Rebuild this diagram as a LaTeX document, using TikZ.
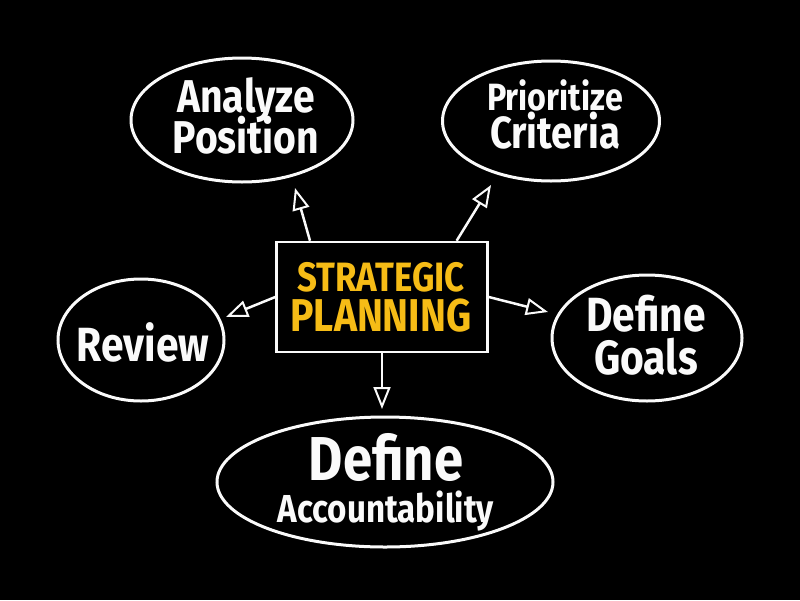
\documentclass[tikz,border=0pt]{standalone}
\usepackage{fontspec}
\setmainfont{Fira Sans}[FakeStretch=0.85]
\usetikzlibrary{shapes.geometric,arrows.meta}

\definecolor{chalk}{RGB}{250,250,250}
\definecolor{marker}{RGB}{246,188,22}
\setlength{\lineskiplimit}{-100pt}

\tikzset{
  bubble/.style={draw=chalk, line width=3pt, ellipse, inner sep=0pt},
  bubbletext/.style={text=chalk, align=center, inner sep=0pt,
    font={\fontsize{10}{#1}\selectfont\bfseries}},
  bubbletext/.default=40,
  hub/.style={draw=chalk, line width=2.5pt, rectangle, minimum width=211pt,
    minimum height=110pt, inner sep=0pt},
  link/.style={draw=chalk, line width=2.5pt,
    -{Triangle[length=22pt,width=17pt,fill=black,line width=2pt]}}
}

\begin{document}
\begin{tikzpicture}[x=1pt, y=-1pt]

% chalkboard
\fill[black] (0,0) rectangle (800,600);

% centre box
\node[hub] (hub) at (382,297) {};
\node[bubbletext=40, text=marker] (hubtext) at (381,297)
  {\fontsize{41}{40}\selectfont STRATEGIC\\
   \fontsize{46}{40}\selectfont PLANNING};

% outer bubbles
\node[bubble, minimum width=222pt, minimum height=124pt] (analyze) at (242,120) {};
\node[bubbletext=41] (analyzetext) at (246,116)
  {\fontsize{46}{41}\selectfont Analyze\\
   \fontsize{46}{41}\selectfont Position};

\node[bubble, minimum width=217pt, minimum height=120pt] (prioritize) at (551,121) {};
\node[bubbletext=38] (prioritizetext) at (555,114)
  {\fontsize{38}{38}\selectfont Prioritize\\
   \fontsize{45}{38}\selectfont Criteria};

\node[bubble, minimum width=166pt, minimum height=122pt] (review) at (141,340) {};
\node[bubbletext] (reviewtext) at (143,342)
  {\fontsize{48}{48}\selectfont Review};

\node[bubble, minimum width=190pt, minimum height=126pt] (goals) at (647,338) {};
\node[bubbletext=43] (goalstext) at (646,335)
  {\fontsize{48}{43}\selectfont Define\\
   \fontsize{48}{43}\selectfont Goals};

\node[bubble, minimum width=336pt, minimum height=130pt] (account) at (385,482) {};
\node[bubbletext=42] (accounttext) at (386,482)
  {\fontsize{62}{42}\selectfont Define\\
   \fontsize{39}{42}\selectfont Accountability};

% arrow tips
\coordinate (tipA) at (295,188);
\coordinate (tipB) at (491,185);
\coordinate (tipC) at (226,317);
\coordinate (tipD) at (548,312);
\coordinate (tipE) at (382,409);

\draw[link] (hub.142) -- (tipA);
\draw[link] (hub.37) -- (tipB);
\draw[link] (hub.west) -- (tipC);
\draw[link] (hub.east) -- (tipD);
\draw[link] (hub.south) -- (tipE);

\end{tikzpicture}
\end{document}
